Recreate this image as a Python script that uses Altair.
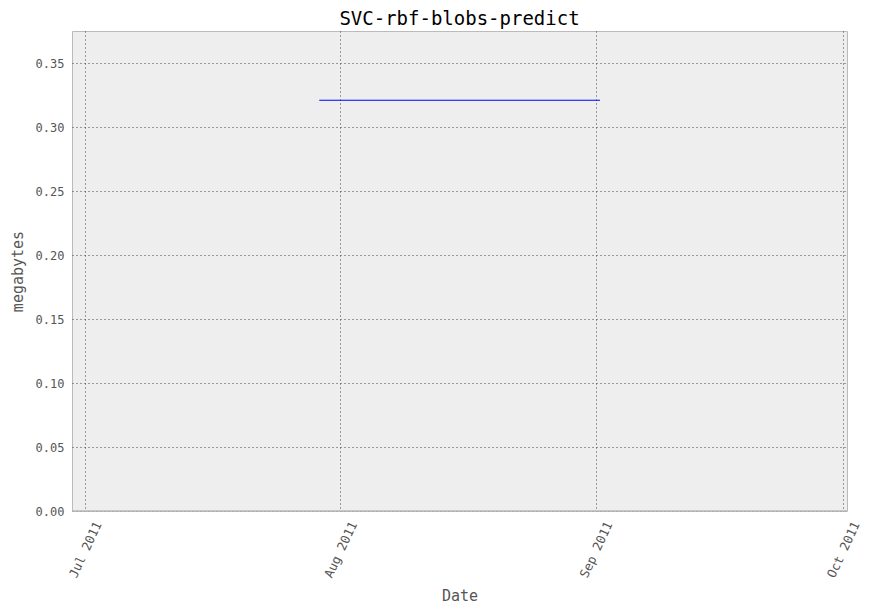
import altair as alt
import pandas as pd

dates = ["2011-07-29T11:00:00", "2011-09-01T12:30:00"]
values = [0.3209, 0.3209]

df = pd.DataFrame({"Date": pd.to_datetime(dates), "megabytes": values})

FONT = "DejaVu Sans Mono"

line = alt.Chart(df).mark_line(color="#0000ff", strokeWidth=1.2, clip=True).encode(
    x=alt.X(
        "Date:T",
        scale=alt.Scale(domain=["2011-06-29T10:55:00", "2011-10-01T12:00:00"]),
        axis=alt.Axis(
            title="Date",
            format="%b %Y",
            values=["2011-07-01T00:00:00", "2011-08-01T00:00:00", "2011-09-01T00:00:00", "2011-10-01T00:00:00"],
            labelAngle=295,
            labelAlign="right",
            labelBaseline="middle",
            labelOffset=13,
            labelPadding=11,
            ticks=False,
            domain=False,
            grid=True,
            gridColor="#444444",
            gridDash=[1, 3],
            gridWidth=1,
            labelFont=FONT,
            labelFontSize=12.5,
            labelColor="#555555",
            titleFont=FONT,
            titleFontSize=15,
            titleFontWeight="normal",
            titleColor="#555555",
            titlePadding=9,
            labelFlush=False,
            labelOverlap=False,
        ),
    ),
    y=alt.Y(
        "megabytes:Q",
        scale=alt.Scale(domain=[0, 0.375], nice=False, zero=True),
        axis=alt.Axis(
            title="megabytes",
            format=".2f",
            values=[0, 0.05, 0.1, 0.15, 0.2, 0.25, 0.3, 0.35],
            ticks=False,
            domain=False,
            grid=True,
            gridColor="#444444",
            gridDash=[1, 3],
            gridWidth=1,
            labelPadding=8,
            labelFont=FONT,
            labelFontSize=12,
            labelColor="#555555",
            titleFont=FONT,
            titleFontSize=15,
            titleFontWeight="normal",
            titleColor="#555555",
            titlePadding=10,
            labelFlush=False,
        ),
    ),
)

baseline = alt.Chart(df).mark_rule(color="#bbbbbb", strokeWidth=1).encode(
    y=alt.datum(0)
)

chart = alt.layer(line, baseline).properties(
    width=775,
    height=480,
    title=alt.Title(
        "SVC-rbf-blobs-predict",
        font=FONT,
        fontSize=19,
        fontWeight="normal",
        color="#000000",
        anchor="middle",
        offset=2,
    ),
    background="white",
    autosize=alt.AutoSizeParams(type="none"),
    padding={"left": 64, "top": 23, "right": 15, "bottom": 94},
).configure_view(
    fill="#eeeeee",
    stroke="#bbbbbb",
    strokeWidth=1,
)

chart.save("out.html", embed_options={"renderer": "svg", "actions": False})
